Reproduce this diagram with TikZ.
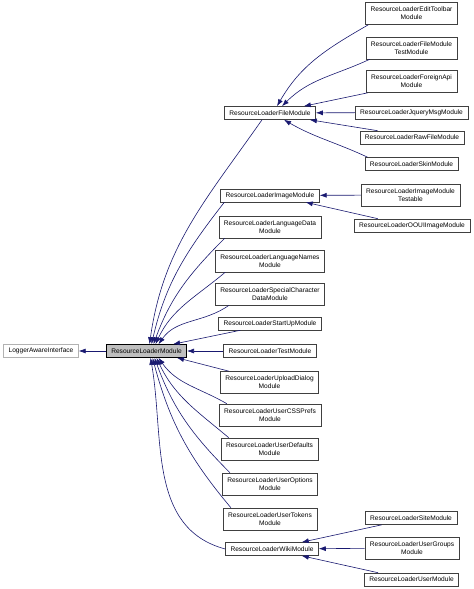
\documentclass[tikz,border=0pt]{standalone}
\usepackage{fontspec}
\setmainfont{Liberation Sans}
\usetikzlibrary{arrows.meta}
\definecolor{edgeblue}{HTML}{191970}
\tikzset{
	classbox/.style={draw=black!75, fill=white, line width=0.6bp, align=center, minimum height=13bp, inner xsep=5bp, inner ysep=1.5bp, font=\fontsize{6.6bp}{8.2bp}\selectfont},
	tall/.style={minimum height=22bp},
	extbox/.style={classbox, draw=black!30},
	focusbox/.style={classbox, fill=black!25, draw=black},
	inherit/.style={draw=edgeblue, line width=0.6bp, -{Latex[length=7bp,width=5bp]}}
}
\begin{document}
\begin{tikzpicture}[x=1bp,y=-1bp]
			\useasboundingbox (0,0) rectangle (474,589);
			\node[extbox] (logger) at (41,351) {LoggerAwareInterface};
			\node[focusbox] (module) at (146.5,351) {ResourceLoaderModule};
			\node[classbox] (file) at (270,113) {ResourceLoaderFileModule};
			\node[classbox] (image) at (270,195.5) {ResourceLoaderImageModule};
			\node[classbox,tall] (langdata) at (270,227) {ResourceLoaderLanguageData\\Module};
			\node[classbox,tall] (langnames) at (270,261) {ResourceLoaderLanguageNames\\Module};
			\node[classbox,tall] (specchar) at (270,294) {ResourceLoaderSpecialCharacter\\DataModule};
			\node[classbox] (startup) at (270,323.5) {ResourceLoaderStartUpModule};
			\node[classbox] (test) at (270,351) {ResourceLoaderTestModule};
			\node[classbox,tall] (upload) at (269.5,382.5) {ResourceLoaderUploadDialog\\Module};
			\node[classbox,tall] (usercss) at (270,415) {ResourceLoaderUserCSSPrefs\\Module};
			\node[classbox,tall] (userdef) at (269.5,449) {ResourceLoaderUserDefaults\\Module};
			\node[classbox,tall] (useropt) at (270,484) {ResourceLoaderUserOptions\\Module};
			\node[classbox,tall] (usertok) at (270,519) {ResourceLoaderUserTokens\\Module};
			\node[classbox] (wiki) at (272,549) {ResourceLoaderWikiModule};
			\node[classbox,tall] (edittb) at (411.5,13.5) {ResourceLoaderEditToolbar\\Module};
			\node[classbox,tall] (filetest) at (411.5,48) {ResourceLoaderFileModule\\TestModule};
			\node[classbox,tall] (foreign) at (411.5,81.5) {ResourceLoaderForeignApi\\Module};
			\node[classbox] (jquery) at (411.5,112.5) {ResourceLoaderJqueryMsgModule};
			\node[classbox] (rawfile) at (412,137.5) {ResourceLoaderRawFileModule};
			\node[classbox] (skin) at (411.5,164) {ResourceLoaderSkinModule};
			\node[classbox,tall] (imgtest) at (410.5,195) {ResourceLoaderImageModule\\Testable};
			\node[classbox] (ooui) at (412,225.5) {ResourceLoaderOOUIImageModule};
			\node[classbox] (site) at (411,518) {ResourceLoaderSiteModule};
			\node[classbox,tall] (groups) at (412,548) {ResourceLoaderUserGroups\\Module};
			\node[classbox] (user) at (411.5,579.5) {ResourceLoaderUserModule};
			\draw[inherit] (module) -- (logger);
			\draw[inherit] ([xshift=-8bp]file.south) to[out=235,in=82] ([xshift=3bp]module.north);
			\draw[inherit] ([xshift=4bp]image.south west) to[out=232,in=77] ([xshift=5bp]module.north);
			\draw[inherit] ([xshift=6bp]langdata.south west) to[out=225,in=70] ([xshift=7bp]module.north);
			\draw[inherit] ([xshift=10bp]langnames.south west) to[out=220,in=65] ([xshift=9bp]module.north);
			\draw[inherit] ([xshift=14bp]specchar.south west) to[out=215,in=55] ([xshift=12bp]module.north);
			\draw[inherit] ([xshift=22bp]startup.south west) -- ([xshift=-14bp]module.north east);
			\draw[inherit] (test) -- (module);
			\draw[inherit] ([xshift=9bp]upload.north west) -- ([xshift=-10bp]module.south east);
			\draw[inherit] ([xshift=8bp]usercss.north west) to[out=150,in=-55] ([xshift=12bp]module.south);
			\draw[inherit] ([xshift=8bp]userdef.north west) to[out=140,in=-65] ([xshift=10bp]module.south);
			\draw[inherit] ([xshift=8bp]useropt.north west) to[out=135,in=-70] ([xshift=8bp]module.south);
			\draw[inherit] ([xshift=8bp]usertok.north west) to[out=130,in=-75] ([xshift=6bp]module.south);
			\draw[inherit] (wiki.west) to[out=165,in=-80] ([xshift=4bp]module.south);
			\draw[inherit] ([xshift=3bp]edittb.south west) to[out=210,in=60] ([xshift=7bp]file.north);
			\draw[inherit] ([xshift=4bp]filetest.south west) to[out=205,in=45] ([xshift=12bp]file.north);
			\draw[inherit] ([xshift=2bp]foreign.south west) -- ([xshift=-12bp]file.north east);
			\draw[inherit] (jquery) -- (file);
			\draw[inherit] ([xshift=18bp]rawfile.north west) -- ([xshift=-6bp]file.south east);
			\draw[inherit] ([xshift=3bp]skin.north west) to[out=155,in=-30] ([xshift=14bp]file.south);
			\draw[inherit] (imgtest) -- (image);
			\draw[inherit] ([xshift=24bp]ooui.north west) -- ([xshift=-14bp]image.south east);
			\draw[inherit] ([xshift=17bp]site.south west) -- ([xshift=-17bp]wiki.north east);
			\draw[inherit] (groups) -- (wiki);
			\draw[inherit] ([xshift=14bp]user.north west) -- ([xshift=-17bp]wiki.south east);
\end{tikzpicture}
\end{document}
